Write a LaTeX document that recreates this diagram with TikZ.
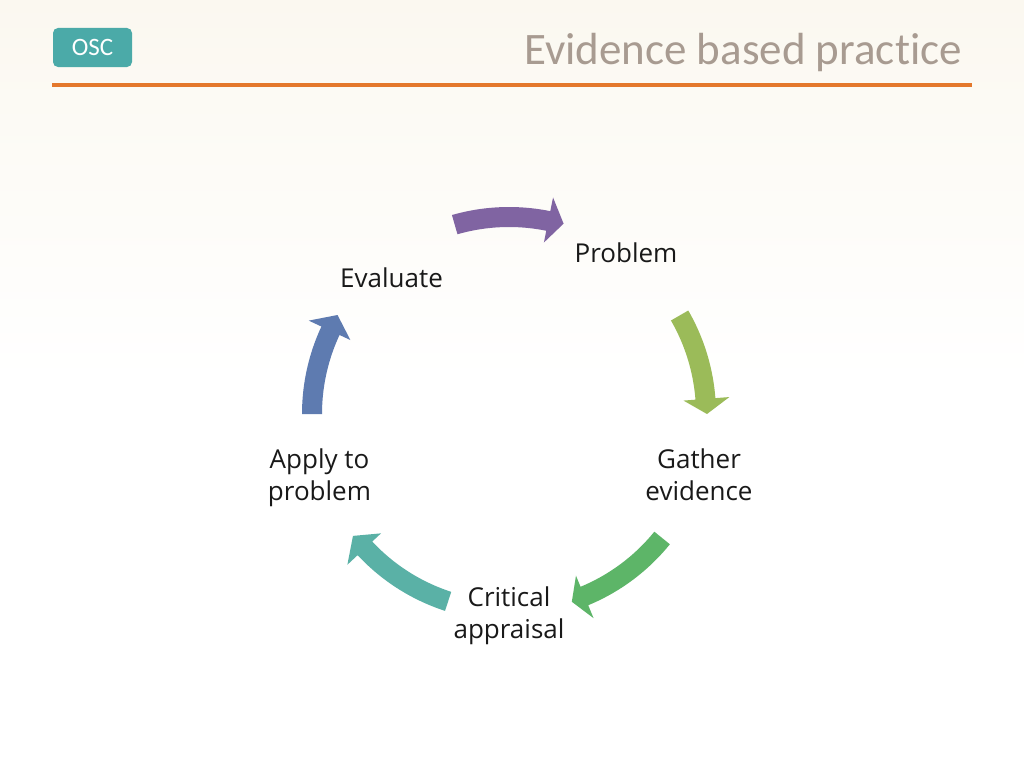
\documentclass[tikz,border=0pt]{standalone}
\usepackage{fontspec}
\setmainfont{Open Sans}
\newfontfamily\titlefont[Ligatures=NoCommon]{Carlito}
\definecolor{cream}{RGB}{251,248,240}
\definecolor{osc}{RGB}{75,170,168}
\definecolor{titlecol}{RGB}{168,155,145}
\definecolor{rulecol}{RGB}{228,120,44}
\definecolor{apurple}{RGB}{128,100,162}
\definecolor{aygreen}{RGB}{155,187,89}
\definecolor{agreen}{RGB}{93,181,104}
\definecolor{ateal}{RGB}{90,177,166}
\definecolor{ablue}{RGB}{94,123,176}
\definecolor{labelcol}{RGB}{25,25,25}
\newcommand{\cycarrow}[4]{%
  \fill[#1] plot[domain=#2:#3,samples=40] ({509+207*cos(\x)},{414+207*sin(\x)})
    -- ({509+221*cos(#3)},{414+221*sin(#3)})
    -- ({509+198*cos(#4)},{414+198*sin(#4)})
    -- ({509+175*cos(#3)},{414+175*sin(#3)})
    -- plot[domain=#3:#2,samples=40] ({509+187*cos(\x)},{414+187*sin(\x)})
    -- cycle;}
\begin{document}
\begin{tikzpicture}[x=1pt,y=-1pt,
  lbl/.style={inner sep=0pt,align=center,text=labelcol,
    font=\fontsize{26}{31.5}\selectfont,anchor=base}]
\useasboundingbox (0,0) rectangle (1024,768);
\shade[top color=cream,bottom color=white] (0,0) rectangle (1024,380);
\fill[white] (0,380) rectangle (1024,768);
% header
\node[fill=osc,rounded corners=5pt,minimum width=79pt,minimum height=39pt,
  inner sep=0pt,text=white,font=\titlefont\fontsize{25}{30}\selectfont]
  (osc) at (92.5,47.5) {OSC};
\node[anchor=base east,inner sep=0pt,text=titlecol,
  font=\titlefont\fontsize{45}{50}\selectfont] (title) at (962,64) {Evidence based practice};
\coordinate (rl) at (52,85);
\coordinate (rr) at (972,85);
\draw[rulecol,line width=3.4pt] (rl) -- (rr);
% cycle arrows
\cycarrow{apurple}{-106}{-78.5}{-74}
\cycarrow{aygreen}{-30}{-4.4}{0}
\cycarrow{agreen}{39}{67.5}{71.5}
\cycarrow{ateal}{108}{137}{142}
\cycarrow{ablue}{180}{205}{210}
% labels
\node[lbl] (problem) at (626,262) {Problem};
\node[lbl] (gather) at (699,500) {Gather\\evidence};
\node[lbl] (critical) at (509,638) {Critical\\appraisal};
\node[lbl] (apply) at (319.5,500) {Apply to\\problem};
\node[lbl] (evaluate) at (391.5,287) {Evaluate};
\end{tikzpicture}
\end{document}
